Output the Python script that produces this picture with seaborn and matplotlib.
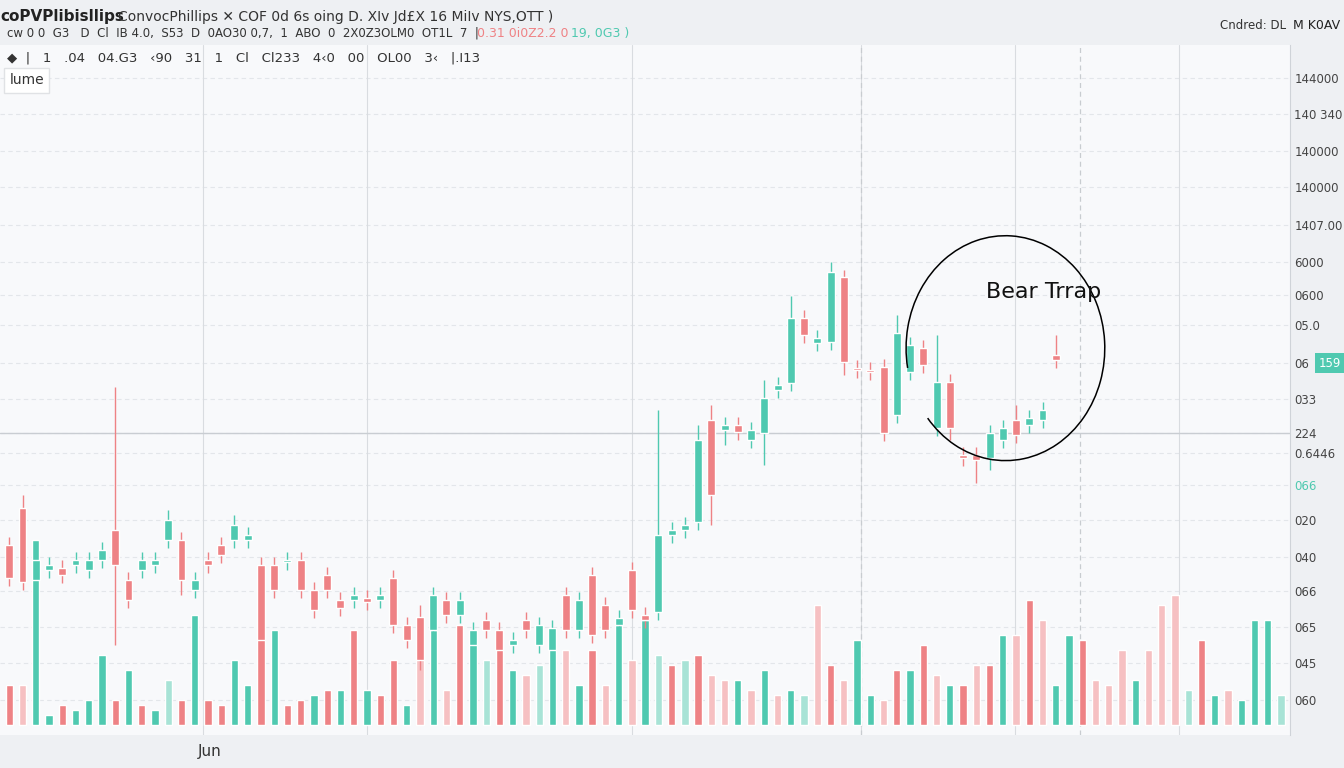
import matplotlib
matplotlib.use("Agg")
import matplotlib.pyplot as plt
import numpy as np
import seaborn as sns
from matplotlib.patches import Arc

sns.set_style("white")
plt.rcParams["font.family"] = ["DejaVu Sans"]

UP = "#4fc9b0"
DN = "#ee8285"
UP_L = "#a8e3d6"
DN_L = "#f6c0c2"

opens = [19.0, 22.7, 15.5, 16.5, 16.7, 17.0, 16.5, 17.5, 20.5, 15.5, 16.5, 17.0, 19.5, 19.5, 14.5, 17.5,
         19.0, 19.5, 19.5, 17.0, 17.0, 17.3, 17.5, 14.5, 16.0, 13.5, 13.5, 13.7, 13.5, 15.7, 11.0, 11.8,
         10.5, 13.5, 12.0, 9.0, 11.5, 10.5, 9.0, 11.5, 9.0, 8.5, 14.0, 10.5, 16.0, 13.0, 11.0, 16.5,
         12.0, 12.3, 20.0, 20.5, 21.3, 31.5, 30.5, 31.0, 29.5, 30.2, 34.5, 35.2, 41.7, 39.2, 39.3, 45.8,
         36.7, 36.5, 36.8, 32.0, 36.3, 38.7, 30.7, 35.3, 28.0, 28.0, 27.7, 29.5, 31.5, 31.0, 31.5, 38.0]
closes = [15.7, 15.3, 17.5, 17.0, 16.0, 17.5, 17.5, 18.5, 17.0, 13.5, 17.5, 17.5, 21.5, 15.5, 15.5, 17.0,
          18.0, 21.0, 20.0, 9.5, 14.5, 17.5, 14.5, 12.5, 14.5, 12.7, 14.0, 13.3, 14.0, 11.0, 9.5, 7.5,
          14.0, 12.0, 13.5, 10.5, 10.5, 8.5, 9.5, 10.5, 11.0, 10.7, 10.5, 13.5, 10.0, 10.5, 11.7, 12.5,
          11.5, 20.0, 20.5, 21.0, 29.5, 24.0, 31.0, 30.3, 30.5, 33.7, 35.0, 41.7, 40.0, 39.7, 46.3, 37.3,
          36.5, 36.3, 30.2, 40.2, 39.0, 37.0, 35.3, 30.7, 27.7, 27.5, 30.2, 30.7, 30.0, 31.7, 32.5, 37.5]
# wick overrides (index -> high / low), others get a short wick
high_over = {8: 34.8, 1: 24.0, 12: 22.5, 17: 22.0, 31: 13.0, 49: 32.5, 52: 31.0, 53: 33.0,
             57: 35.5, 59: 43.9, 62: 47.3, 63: 46.5, 67: 42.0, 70: 40.0, 76: 33.0, 79: 40.0}
low_over = {8: 9.0, 2: 12.0, 13: 14.0, 19: 8.0, 31: 6.5, 53: 21.0, 54: 29.0, 57: 27.0,
            63: 36.0, 71: 29.5, 73: 25.2, 74: 26.5}

volume = [(4, 'd'), (4, 'D'), (18.5, 'u'), (1, 'u'), (2, 'd'), (1.5, 'u'), (2.5, 'u'), (7, 'u'), (2.5, 'd'),
          (5.5, 'u'), (2, 'd'), (1.5, 'u'), (4.5, 'U'), (2.5, 'd'), (11, 'u'), (2.5, 'd'), (2, 'd'), (6.5, 'u'),
          (4, 'u'), (12, 'd'), (9.5, 'u'), (2, 'd'), (2.5, 'd'), (3, 'u'), (3.5, 'd'), (3.5, 'u'), (9.5, 'd'),
          (3.5, 'u'), (3, 'd'), (6.5, 'd'), (2, 'u'), (7.5, 'D'), (9.5, 'u'), (3.5, 'D'), (10, 'd'), (9.5, 'u'),
          (6.5, 'U'), (9.5, 'd'), (5.5, 'u'), (5, 'D'), (6, 'U'), (9, 'u'), (7.5, 'D'), (4, 'u'), (7.5, 'd'),
          (4, 'D'), (10, 'u'), (6.5, 'D'), (10.5, 'u'), (7, 'U'), (6, 'd'), (6.5, 'U'), (7, 'd'), (5, 'D'),
          (4.5, 'D'), (4.5, 'u'), (3.5, 'D'), (5.5, 'u'), (3, 'D'), (3.5, 'u'), (3, 'U'), (12, 'D'), (6, 'd'),
          (4.5, 'D'), (8.5, 'u'), (3, 'u'), (2.5, 'D'), (5.5, 'd'), (5.5, 'u'), (8, 'd'), (5, 'D'), (4, 'u'),
          (4, 'd'), (6, 'D'), (6, 'd'), (9, 'u'), (9, 'D'), (12.5, 'd'), (10.5, 'D'), (4, 'u'), (9, 'u'),
          (8.5, 'd'), (4.5, 'D'), (4, 'D'), (7.5, 'D'), (4.5, 'u'), (7.5, 'D'), (12, 'D'), (13, 'D'),
          (3.5, 'U'), (8.5, 'd'), (3, 'u'), (3.5, 'D'), (2.5, 'u'), (10.5, 'u'), (10.5, 'u'), (3, 'U')]

right_ticks = [65.7, 62.1, 58.4, 54.8, 51.0, 47.3, 44.0, 41.0, 37.2, 33.6, 30.2, 28.2, 25.0, 21.5,
               17.8, 14.4, 10.8, 7.2, 3.5]
right_labels = ["144000", "140 340", "140000", "140000", "1407.00", "6000", "0600", "05.0", "06",
                "033", "224", "0.6446", "066", "020", "040", "066", "065", "045", "060"]
vlines_at = [14.6, 27.0, 47.0, 64.3, 75.9, 88.3]

fig = plt.figure(figsize=(13.44, 7.68), dpi=100)
fig.patch.set_facecolor("#eef0f3")
ax = fig.add_axes([0.0, 0.043, 0.96, 0.898])
ax.set_facecolor("#f8f9fb")

n = len(opens)
x = np.arange(n)
o = np.array(opens)
c = np.array(closes)
top = np.maximum(o, c)
bot = np.minimum(o, c)
highs = np.array([high_over.get(i, top[i] + 0.8) for i in range(n)])
lows = np.array([low_over.get(i, bot[i] - 0.8) for i in range(n)])
up = c >= o

for y in right_ticks:
    ax.axhline(y, color="#e3e6ea", lw=0.8, ls=(0, (4, 3)), zorder=0)
for xv in vlines_at:
    ax.axvline(xv, color="#d9dce0", lw=0.8, zorder=0)
ax.axvline(80.8, color="#c8ccd0", lw=0.9, ls=(0, (4, 3)), zorder=0)
ax.axvline(64.3, color="#c8ccd0", lw=0.9, ls=(0, (4, 3)), zorder=0)
ax.axhline(30.2, color="#c9cdd2", lw=1.0, zorder=1)

# volume
vx = np.arange(len(volume))
vh = np.array([v for v, _ in volume])
vcol = [{"u": UP, "d": DN, "U": UP_L, "D": DN_L}[k] for _, k in volume]
ax.bar(vx, vh, bottom=1.0, width=0.55, color=vcol, zorder=2)

# candles
cols = np.where(up, UP, DN)
ax.vlines(x, lows, highs, color=cols, lw=1.0, zorder=3)
ax.bar(x, np.maximum(top - bot, 0.25), bottom=bot, width=0.6, color=cols, zorder=4)

ax.set_xlim(-0.7, len(volume) - 0.3)
ax.set_ylim(0, 69)
ax.set_xticks([])
ax.yaxis.tick_right()
ax.set_yticks(right_ticks)
ax.set_yticklabels(right_labels, fontsize=8.5, color="#444")
ax.tick_params(axis="y", length=0, pad=3)
ax.get_yticklabels()[12].set_color(UP)
for s in ["top", "left", "bottom"]:
    ax.spines[s].set_visible(False)
ax.spines["right"].set_color("#cfd3d8")

# annotation
ax.add_patch(Arc((75.2, 38.7), 15, 22.5, theta1=-130, theta2=195, color="black", lw=1.1, zorder=5))
ax.text(73.7, 43.7, "Bear Trrap", fontsize=16, color="#111", zorder=6)
ax.text(1.022, 37.2, "159", transform=ax.get_yaxis_transform(), fontsize=8.5, color="white",
        va="center", ha="left", bbox=dict(boxstyle="square,pad=0.3", fc=UP, ec="none"))
ax.text(0.0, 65.5, "lume", fontsize=10, color="#333", va="center",
        bbox=dict(boxstyle="square,pad=0.4", fc="white", ec="#e0e2e5"))

# header
fig.text(0.0, 0.978, "coPVPlibisllips", fontsize=11, weight="bold", color="#222", va="center")
fig.text(0.088, 0.978, "ConvocPhillips ✕ COF 0d 6s oing D. XIv Jd£X 16 MiIv NYS,OTT )",
         fontsize=10, color="#333", va="center")
fig.text(0.005, 0.957, "cw 0 0  G3   D  Cl  IB 4.0,  S53  D  0AO30 0,7,  1  ABO  0  2X0Z3OLM0  OT1L  7  |",
         fontsize=8.5, color="#333", va="center")
fig.text(0.355, 0.957, "0.31 0i0Z2.2 0", fontsize=9, color=DN, va="center")
fig.text(0.425, 0.957, "19, 0G3 )", fontsize=9, color=UP, va="center")
fig.text(0.005, 0.925, "◆  |   1   .04   04.G3   ‹90   31   1   Cl   Cl233   4‹0   00   OL00   3‹   |.I13",
         fontsize=9.5, color="#333", va="center")
fig.text(0.908, 0.967, "Cndred: DL", fontsize=8.5, color="#333", va="center")
fig.text(0.962, 0.967, "M K0AV", fontsize=9, color="#222", va="center")
fig.text(0.147, 0.022, "Jun", fontsize=11, color="#333", va="center")

fig.savefig("out.png", dpi=100, facecolor=fig.get_facecolor())
